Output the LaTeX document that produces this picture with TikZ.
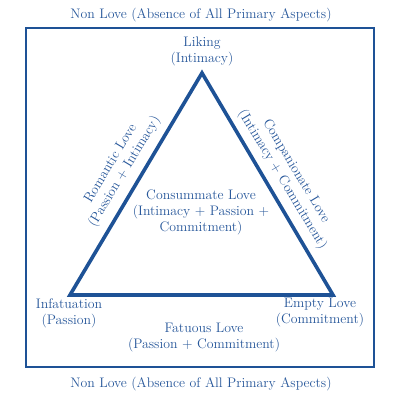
\documentclass[tikz,border=0pt]{standalone}
\definecolor{lineblue}{RGB}{30,82,150}
\definecolor{textblue}{RGB}{40,88,155}
\begin{document}
\begin{tikzpicture}[x=1pt,y=-1pt,
  lbl/.style={text=textblue,align=center,font=\fontsize{13.8}{16}\selectfont,inner sep=0pt}]
\useasboundingbox (0,0) rectangle (400,400);
\fill[white] (0,0) rectangle (400,400);
\coordinate (r1) at (26,28);
\coordinate (r2) at (374,367);
\draw[lineblue,line width=2pt] (r1) rectangle (r2);
\coordinate (A) at (202,73);
\coordinate (B) at (70,295);
\coordinate (C) at (333,295);
\draw[lineblue,line width=3.6pt,line join=miter] (A) -- (B) -- (C) -- cycle;
\node[lbl] (top) at (201,15) {Non Love (Absence of All Primary Aspects)};
\node[lbl] (bot) at (201,384) {Non Love (Absence of All Primary Aspects)};
\node[lbl] (liking) at (202,51) {Liking\\(Intimacy)};
\node[lbl,rotate=59] (rom) at (118,168) {Romantic Love\\(Passion + Intimacy)};
\node[lbl,rotate=-59] (comp) at (289,175.5) {Companionate Love\\(Intimacy + Commitment)};
\node[lbl] (cons) at (201,212) {Consummate Love\\(Intimacy + Passion +\\Commitment)};
\node[lbl] (inf) at (69,313) {Infatuation\\(Passion)};
\node[lbl] (empty) at (320,313) {Empty Love\\(Commitment)};
\node[lbl] (fat) at (204,338) {Fatuous Love\\(Passion + Commitment)};
\end{tikzpicture}
\end{document}
